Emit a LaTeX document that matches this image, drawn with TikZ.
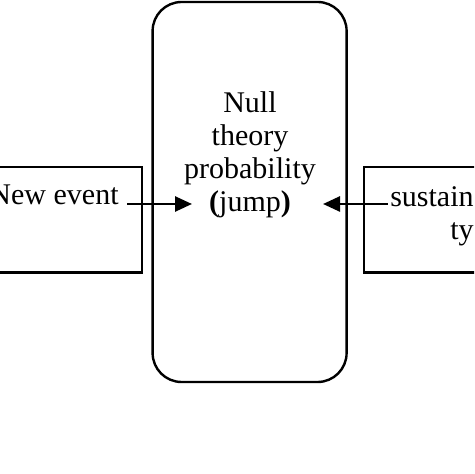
\documentclass[tikz,border=0pt]{standalone}
\usepackage{fontspec}
\setmainfont{Liberation Serif}
\usetikzlibrary{arrows.meta}

\begin{document}
\begin{tikzpicture}[x=0.5pt, y=-0.5pt,
    every node/.style = {align=center, font=\fontsize{15}{16.5}\selectfont, inner sep=0pt},
    frame/.style = {draw, line width=1.2pt},
    link/.style = {line width=1.3pt, -{Triangle[length=8.5pt, width=7.5pt]}}]
  \useasboundingbox (0,0) rectangle (474,474);
  \clip (0,0) rectangle (474,474);
  % the three boxes
  \node[frame, rounded corners=14.5pt, minimum width=97pt, minimum height=190pt] (nullbox) at (249.6,192) {};
  \node[frame, minimum width=83.8pt, minimum height=52.8pt] (eventbox) at (57.9,219.9) {};
  \node[frame, minimum width=83.8pt, minimum height=52.8pt] (sustainbox) at (447.9,219.9) {};
  % texts (base is the last line)
  \node[anchor=base] (nulltext) at (250,212) {Null\\theory\\probability\\\textbf{(}jump\textbf{)}};
  \node[anchor=base east, inner xsep=4pt] (eventtext) at (127,205) {New event};
  \node[anchor=base east, inner xsep=1pt, align=right] (sustaintext) at (476,240) {sustain\\ty};
  % arrow ends
  \coordinate (lin) at (192,204);
  \coordinate (rin) at (323,204);
  \draw[link] (eventtext.east |- lin) -- (lin);
  \draw[link] (sustaintext.west |- rin) -- (rin);
\end{tikzpicture}
\end{document}
